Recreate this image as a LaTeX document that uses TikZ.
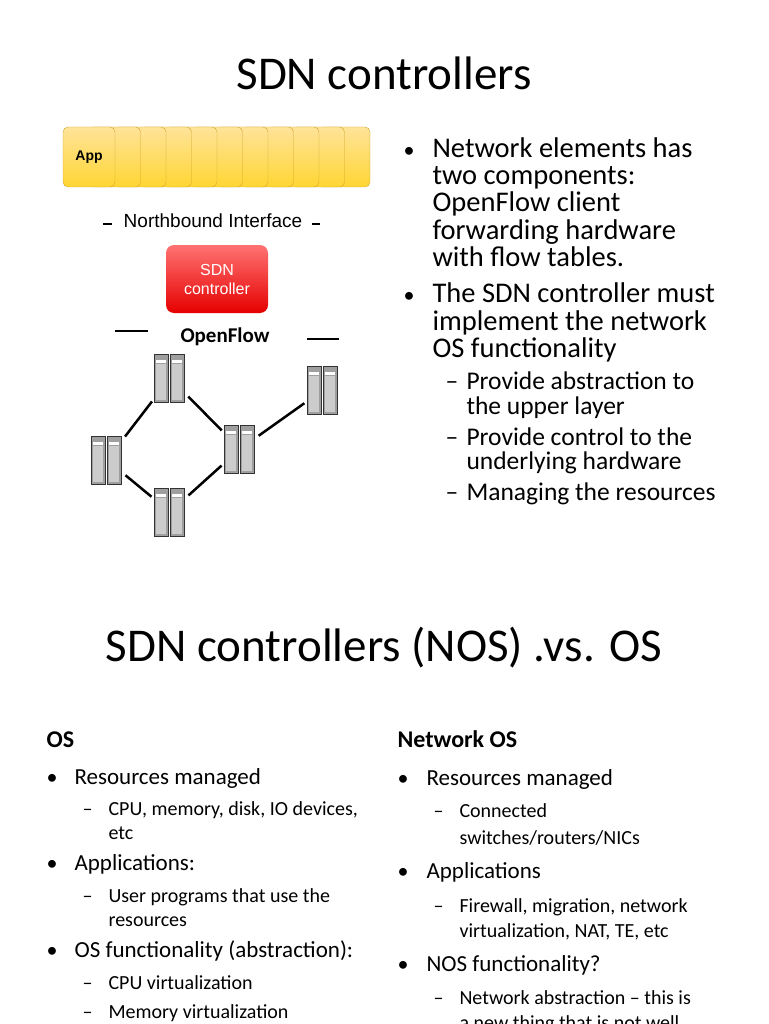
\documentclass[tikz,border=0pt]{standalone}
\usepackage{fontspec}
\setmainfont{Carlito}
\newfontfamily\arialf{Liberation Sans}
\usetikzlibrary{positioning}
\begin{document}
\begin{tikzpicture}[x=1pt, y=-1pt,
  card/.style = {draw=yellow!50!orange!80!black, rounded corners=5pt, minimum width=52pt, minimum height=60pt,
                 top color=yellow!45!orange!40, bottom color=yellow!60!orange!80, inner sep=0pt},
  ctrl/.style = {rounded corners=8pt, minimum width=102pt, minimum height=68pt, top color=red!55, bottom color=red!90!black,
                 text=white, align=center, font=\arialf\fontsize{16}{19}\selectfont, text depth=0pt},
  server/.style = {minimum width=32pt, minimum height=48pt, inner sep=0pt, path picture={
      \foreach \dx in {0,16} {
        \fill[gray!75, draw=gray!40!black] ([xshift=\dx pt]path picture bounding box.north west) rectangle ++(14pt,-48pt);
        \fill[white] ([xshift=\dx pt+2pt, yshift=-6pt]path picture bounding box.north west) rectangle ++(10pt,-3pt);
        \fill[gray!40] ([xshift=\dx pt+2pt, yshift=-10pt]path picture bounding box.north west) rectangle ++(10pt,-36pt);
      }}},
  link/.style = {line width=2.5pt, shorten <=3pt, shorten >=3pt},
  txt/.style = {anchor=west, text height=0.7em, text depth=0.22em, inner ysep=0pt, yshift=-5pt},
  title/.style = {font=\fontsize{47}{56}\selectfont},
  big/.style = {txt, font=\fontsize{28.5}{34}\selectfont},
  mid/.style = {txt, font=\fontsize{25.5}{30}\selectfont},
  small/.style = {txt, font=\fontsize{23}{27}\selectfont},
  sub/.style = {txt, font=\fontsize{20}{24}\selectfont},
  dot/.style = {txt, font=\fontsize{22}{24}\selectfont}]
\useasboundingbox (0,0) rectangle (768,1024);
\clip (0,0) rectangle (768,1024);

% Slide 1
\node (title1) [title] at (384,73) {SDN controllers};
\foreach \i in {10,9,...,1} {
  \node (app\i) [card] at (89+25.5*\i,157) {};
}
\node (app0) [card, font=\arialf\bfseries\fontsize{14}{16}\selectfont] at (89,157) {App};
\node (nbi) [font=\arialf\fontsize{19}{22}\selectfont] at (213,221) {Northbound Interface};
\draw[line width=2pt] (103,224) -- (112,224) (312,224) -- (320,224);
\node (sdn) [ctrl] at (217,279) {SDN\\controller};
\node (of) [font=\bfseries\fontsize{21}{25}\selectfont] at (225,337) {OpenFlow};
\draw[line width=1.5pt] (115,331) -- (148,331) (307,339) -- (339,339);

\node (stop) [server] at (170,378) {};
\node (sfar) [server] at (323,390) {};
\node (smid) [server] at (240,449) {};
\node (sleft) [server] at (107,460) {};
\node (sbot) [server] at (170,512) {};
\draw[link] (stop) -- (sleft);
\draw[link] (stop) -- (smid);
\draw[link] (smid) -- (sfar);
\draw[link] (sleft) -- (sbot);
\draw[link] (sbot) -- (smid);

\foreach \y/\t in {150/Network elements has, 177/two components:, 204/OpenFlow client, 232/forwarding hardware, 259/with flow tables.,
                   295/The SDN controller must, 323/implement the network, 350/OS functionality} {
  \node [big] at (429,\y) {\t};
}
\node [dot] at (400,150) {\textbullet};
\node [dot] at (400,295) {\textbullet};
\foreach \y/\t in {382/Provide abstraction to, 407/the upper layer, 438/Provide control to the, 462/underlying hardware, 493/Managing the resources} {
  \node [mid] at (463,\y) {\t};
}
\foreach \y in {382,438,493} { \node [mid] at (442,\y) {\textendash}; }

% Slide 2
\node (title2) [title] at (384,648) {SDN controllers (NOS) .vs. OS};
\node [small, font=\bfseries\fontsize{24}{28}\selectfont] at (43,740) {OS};
\node [small, font=\bfseries\fontsize{24}{28}\selectfont] at (394,740) {Network OS};
\foreach \y/\t in {777/Resources managed, 863/Applications:, 950/OS functionality (abstraction):} {
  \node [dot] at (43,\y) {\textbullet};
  \node [small] at (71,\y) {\t};
}
\foreach \y/\t/\d in {808/{CPU, memory, disk, IO devices,}/1, 832/etc/0, 895/User programs that use the/1, 919/resources/0,
                      982/CPU virtualization/1, 1011/Memory virtualization/1} {
  \node [sub] at (105,\y) {\t};
  \ifnum\d=1 \node [sub] at (79,\y) {\textendash}; \fi
}
\foreach \y/\t in {778/Resources managed, 871/Applications, 964/NOS functionality?} {
  \node [dot] at (394,\y) {\textbullet};
  \node [small] at (423,\y) {\t};
}
\foreach \y/\t/\d in {810/Connected/1, 837/{switches/routers/NICs}/0, 905/{Firewall, migration, network}/1, 930/{virtualization, NAT, TE, etc}/0,
                      997/Network abstraction \textendash{} this is/1, 1022/a new thing that is not well/0} {
  \node [sub] at (456,\y) {\t};
  \ifnum\d=1 \node [sub] at (430,\y) {\textendash}; \fi
}
\end{tikzpicture}
\end{document}
